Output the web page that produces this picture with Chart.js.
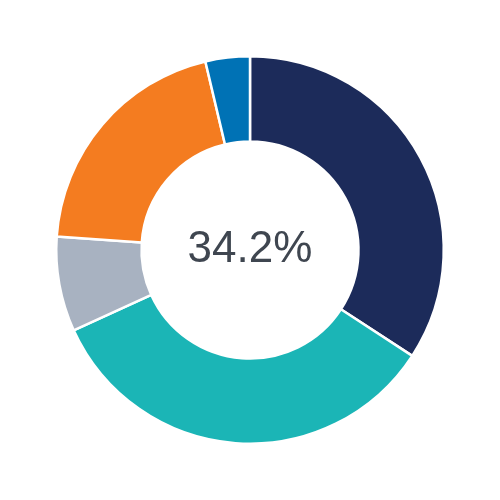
<!DOCTYPE html>
<html><head><script src="https://cdn.jsdelivr.net/npm/chart.js"></script>
<style>body{margin:0;background:#fff}#w{width:500px;height:500px}</style></head>
<body><div id="w"><canvas id="c"></canvas></div>
<script>
const labels=["A","B","C","D","E"];
const values=[34.2,34.0,7.9,20.2,3.7];
const colors=["#1c2b5a","#1bb5b6","#a8b2c1","#f47c20","#0072b5"];
const centerText="34.2%";
new Chart(document.getElementById('c'),{type:'doughnut',
data:{labels,datasets:[{data:values,backgroundColor:colors,borderColor:'#fff',borderWidth:2.5}]},
options:{responsive:true,maintainAspectRatio:false,animation:false,cutout:'56%',
layout:{padding:55},plugins:{legend:{display:false},tooltip:{enabled:false}}},
plugins:[{id:'ct',afterDraw(ch){const c=ch.ctx,a=ch.chartArea;c.save();c.font='44px "Liberation Sans", Arial';c.fillStyle='#3f4650';c.textAlign='center';c.textBaseline='middle';c.fillText(centerText,(a.left+a.right)/2,(a.top+a.bottom)/2);c.restore();}}]
});
</script></body></html>
